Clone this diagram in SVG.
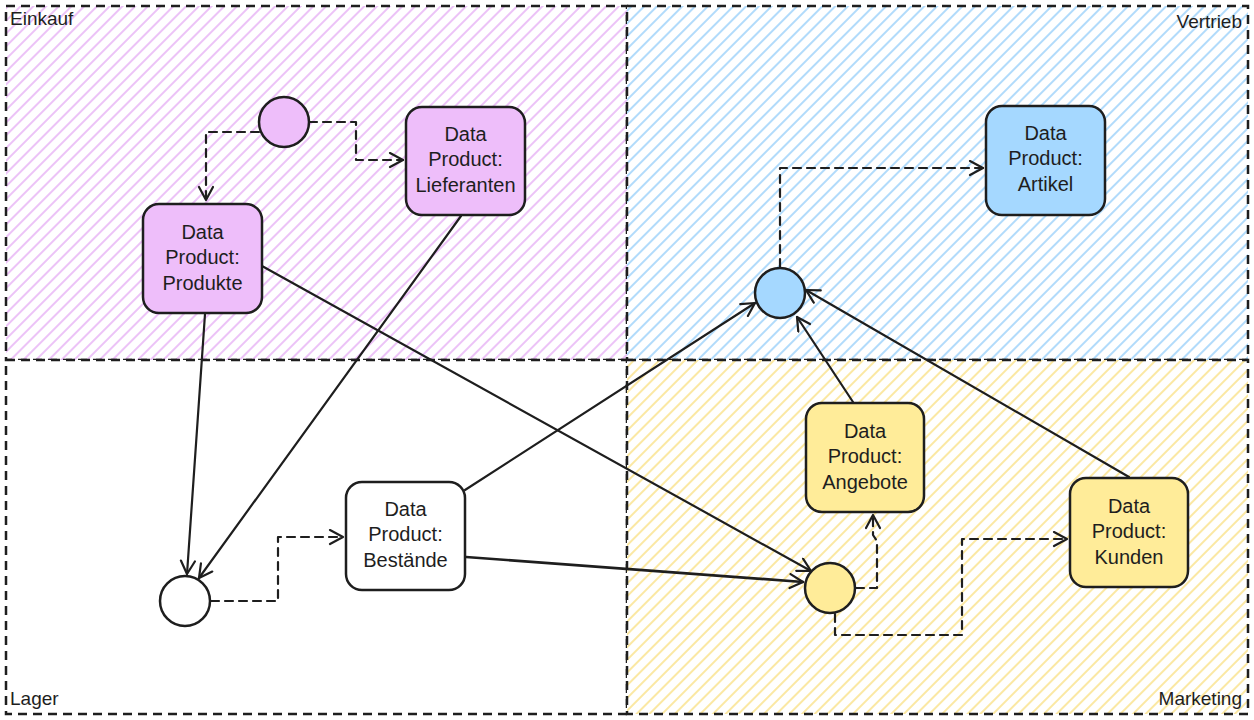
<svg xmlns="http://www.w3.org/2000/svg" width="1254" height="720" viewBox="0 0 1254 720">
<style>
.zone{stroke:#1e1e1e;stroke-width:2.5;stroke-dasharray:9 6;}
.zl{font-family:"Liberation Sans","DejaVu Sans",sans-serif;font-size:19px;fill:#1e1e1e;}
.box{stroke:#1e1e1e;stroke-width:2.5;}
.t{font-family:"Liberation Sans","DejaVu Sans",sans-serif;font-size:20px;fill:#1e1e1e;text-anchor:middle;}
.c{fill:none;stroke:#1e1e1e;stroke-width:2.2;stroke-linecap:round;stroke-linejoin:round;marker-end:url(#ah);}
.d{stroke-dasharray:8 6;}
.p{fill:#eebefa;}.b{fill:#a5d8ff;}.y{fill:#ffec99;}.w{fill:#ffffff;}
</style>
<defs>
<pattern id="hp" width="9" height="9" patternUnits="userSpaceOnUse" patternTransform="rotate(45)"><rect width="9" height="9" fill="#ffffff"/><line x1="1" y1="0" x2="1" y2="9" stroke="#e8b4f5" stroke-width="1.6"/></pattern>
<pattern id="hb" width="9" height="9" patternUnits="userSpaceOnUse" patternTransform="rotate(45)"><rect width="9" height="9" fill="#ffffff"/><line x1="1" y1="0" x2="1" y2="9" stroke="#9ed2fb" stroke-width="1.6"/></pattern>
<pattern id="hy" width="9" height="9" patternUnits="userSpaceOnUse" patternTransform="rotate(45)"><rect width="9" height="9" fill="#ffffff"/><line x1="1" y1="0" x2="1" y2="9" stroke="#fbe38c" stroke-width="1.6"/></pattern>
<marker id="ah" markerWidth="20" markerHeight="20" refX="15" refY="8" orient="auto" markerUnits="userSpaceOnUse"><path d="M2,1 L15,8 L2,15" fill="none" stroke="#1e1e1e" stroke-width="2.2" stroke-linecap="round" stroke-linejoin="round"/></marker>
</defs>
<rect width="1254" height="720" fill="#ffffff"/>
<g id="zones">
<g id="zone-einkauf"><rect class="zone" x="6" y="6" width="621" height="354" fill="url(#hp)"/><text class="zl" x="10" y="25">Einkauf</text></g>
<g id="zone-vertrieb"><rect class="zone" x="627" y="6" width="621" height="354" fill="url(#hb)"/><text class="zl" x="1242" y="28" text-anchor="end">Vertrieb</text></g>
<g id="zone-lager"><rect class="zone" x="6" y="360" width="621" height="354" fill="#ffffff"/><text class="zl" x="10" y="705">Lager</text></g>
<g id="zone-marketing"><rect class="zone" x="627" y="360" width="621" height="354" fill="url(#hy)"/><text class="zl" x="1242" y="705" text-anchor="end">Marketing</text></g>
</g>
<g id="connectors">
<path class="c d" d="M259,132 L206,132 L206,200"/>
<path class="c d" d="M309,122 L356,122 L356,160 L403,160"/>
<path class="c" d="M205,314 L187,574"/>
<path class="c" d="M461,216 L199,578"/>
<path class="c" d="M262,266 L811,571"/>
<path class="c d" d="M211,601 L278,601 L278,537 L343,537"/>
<path class="c" d="M465,490 L755,303"/>
<path class="c" d="M466,557 L803,582" style="stroke-width:2.7"/>
<path class="c" d="M853,402 L797,317"/>
<path class="c" d="M1129,477 L806,290"/>
<path class="c d" d="M780,267 L780,168 L983,168"/>
<path class="c d" d="M856,588 L877,588 L877,541 L873,535 L873,515"/>
<path class="c d" d="M835,614 L835,635 L962,635 L962,539 L1067,539"/>
</g>
<g id="node-c-einkauf"><circle class="box p" cx="284" cy="122" r="25"/></g>
<g id="node-lieferanten"><rect class="box p" x="406" y="107" width="119" height="108" rx="16"/><text class="t" x="465.5" y="141">Data</text><text class="t" x="465.5" y="166">Product:</text><text class="t" x="465.5" y="192">Lieferanten</text></g>
<g id="node-produkte"><rect class="box p" x="143" y="204" width="119" height="109" rx="16"/><text class="t" x="202.5" y="239">Data</text><text class="t" x="202.5" y="264">Product:</text><text class="t" x="202.5" y="290">Produkte</text></g>
<g id="node-c-vertrieb"><circle class="box b" cx="780" cy="293" r="25"/></g>
<g id="node-artikel"><rect class="box b" x="986" y="106" width="119" height="109" rx="16"/><text class="t" x="1045.5" y="140">Data</text><text class="t" x="1045.5" y="165">Product:</text><text class="t" x="1045.5" y="191">Artikel</text></g>
<g id="node-angebote"><rect class="box y" x="806" y="403" width="118" height="109" rx="16"/><text class="t" x="865" y="438">Data</text><text class="t" x="865" y="463">Product:</text><text class="t" x="865" y="489">Angebote</text></g>
<g id="node-kunden"><rect class="box y" x="1070" y="478" width="118" height="109" rx="16"/><text class="t" x="1129" y="513">Data</text><text class="t" x="1129" y="538">Product:</text><text class="t" x="1129" y="564">Kunden</text></g>
<g id="node-c-marketing"><circle class="box y" cx="830" cy="588" r="25"/></g>
<g id="node-c-lager"><circle class="box w" cx="185" cy="601" r="25"/></g>
<g id="node-bestaende"><rect class="box w" x="346" y="482" width="119" height="108" rx="16"/><text class="t" x="405.5" y="516">Data</text><text class="t" x="405.5" y="541">Product:</text><text class="t" x="405.5" y="567">Bestände</text></g>
</svg>
